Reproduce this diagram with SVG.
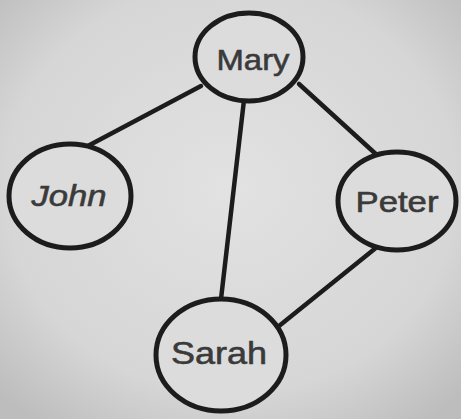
<svg xmlns="http://www.w3.org/2000/svg" width="461" height="419" viewBox="0 0 461 419">
<defs>
<radialGradient id="bg" cx="0.5" cy="0.45" r="0.7">
<stop offset="0" stop-color="#e2e2e2"/>
<stop offset="0.7" stop-color="#d6d6d6"/>
<stop offset="1" stop-color="#bdbdbd"/>
</radialGradient>
<style>
.node ellipse{fill:#dcdcdc;stroke:#1c1c1c;stroke-width:5}
.node text{font-family:"Liberation Sans",Arial,sans-serif;fill:#3a3a3a;text-anchor:middle;stroke:#3a3a3a;stroke-width:0.6}
.edges line{stroke:#1c1c1c;stroke-width:4.5;stroke-linecap:round}
</style>
</defs>
<rect width="461" height="419" fill="url(#bg)"/>
<g class="edges">
<line x1="201" y1="86" x2="84" y2="148"/>
<line x1="244" y1="100" x2="221" y2="299"/>
<line x1="299" y1="84" x2="378" y2="156"/>
<line x1="377" y1="247" x2="279" y2="326"/>
</g>
<g id="mary" class="node">
<ellipse cx="249" cy="57" rx="54" ry="44"/>
<text x="253" y="70" font-size="30" textLength="73" lengthAdjust="spacingAndGlyphs">Mary</text>
</g>
<g id="john" class="node">
<ellipse cx="70" cy="196" rx="61" ry="52"/>
<text x="69" y="206" font-size="30" font-style="italic" textLength="75" lengthAdjust="spacingAndGlyphs">John</text>
</g>
<g id="peter" class="node">
<ellipse cx="397" cy="201" rx="59" ry="49"/>
<text x="397" y="212" font-size="30" textLength="83" lengthAdjust="spacingAndGlyphs">Peter</text>
</g>
<g id="sarah" class="node">
<ellipse cx="221" cy="355" rx="65" ry="56"/>
<text x="219" y="364" font-size="32" textLength="96" lengthAdjust="spacingAndGlyphs">Sarah</text>
</g>
</svg>
